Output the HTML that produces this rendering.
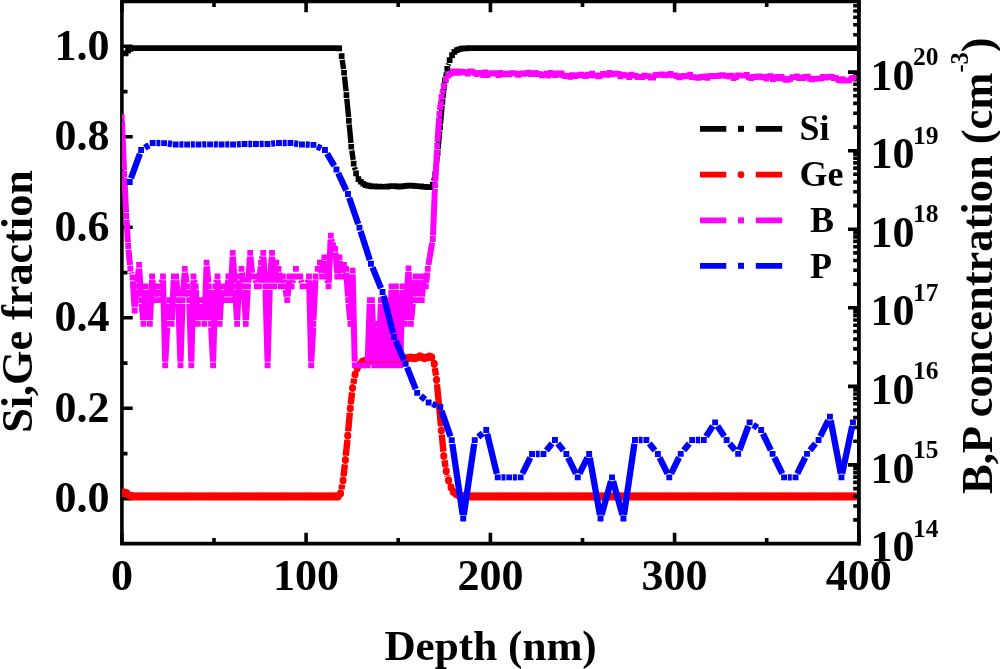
<!DOCTYPE html>
<html lang="en"><head><meta charset="utf-8"><title>Depth profile</title><style>html,body{margin:0;padding:0;background:#fff}svg{display:block}</style></head><body>
<svg width="1000" height="669" viewBox="0 0 1000 669" font-family="'Liberation Serif', serif" font-weight="bold" fill="#000">
<rect width="1000" height="669" fill="#fff"/>
<g stroke="#000" stroke-width="3.6" fill="none" stroke-linecap="butt">
<path d="M120.1 1.4H860.6M120.1 543.6H860.6M121.9 0V545.4M858.8 0V545.4"/>
<path d="M121.9 543.6v-10.8M121.9 1.4v10.8M306.1 543.6v-10.8M306.1 1.4v10.8M490.4 543.6v-10.8M490.4 1.4v10.8M674.6 543.6v-10.8M674.6 1.4v10.8M858.8 543.6v-10.8M858.8 1.4v10.8M214 543.6v-5.6M214 1.4v5.6M398.2 543.6v-5.6M398.2 1.4v5.6M582.5 543.6v-5.6M582.5 1.4v5.6M766.7 543.6v-5.6M766.7 1.4v5.6M121.9 498.8h10.8M121.9 408.3h10.8M121.9 317.8h10.8M121.9 227.3h10.8M121.9 136.8h10.8M121.9 46.3h10.8M121.9 453.6h5.6M121.9 363.1h5.6M121.9 272.6h5.6M121.9 182.1h5.6M121.9 91.6h5.6"/>
</g>
<clipPath id="c"><rect x="121.9" y="1.4" width="736.9" height="542.2"/></clipPath>
<g clip-path="url(#c)">
<path d="M342.2 59.9L343.6 69.1M344.5 76.5L346.1 91.3M346.8 98.7L348.6 117.2M349.2 124.6L351 143M351.8 150.5L353.2 159.9M354.6 167.4L355.2 169.7M433.7 181L434.5 177.7M435.7 170.3L437.3 156.5M438.1 149.1L439.7 131.2M440.5 123.7L442.1 105.6M442.9 98.2L444.5 84.1M445.7 76.7L446.5 72.5M448.3 65.1L448.7 63.9" stroke="#000" stroke-width="5.4" fill="none"/>
<path d="M120.4 50.5h5.7v5.7h-5.7zM122.8 50.5h5.7v5.7h-5.7zM125.2 47.8h5.7v5.7h-5.7zM127.7 46.1h5.7v5.7h-5.7zM130.1 45.4h5.7v5.7h-5.7zM132.4 45.2h5.7v5.7h-5.7zM134.8 45.2h5.7v5.7h-5.7zM137.2 45.2h5.7v5.7h-5.7zM139.7 45.2h5.7v5.7h-5.7zM142.1 45.2h5.7v5.7h-5.7zM144.4 45.2h5.7v5.7h-5.7zM146.8 45.2h5.7v5.7h-5.7zM149.2 45.2h5.7v5.7h-5.7zM151.7 45.2h5.7v5.7h-5.7zM154.1 45.2h5.7v5.7h-5.7zM156.4 45.2h5.7v5.7h-5.7zM158.8 45.2h5.7v5.7h-5.7zM161.2 45.2h5.7v5.7h-5.7zM163.7 45.2h5.7v5.7h-5.7zM166.1 45.2h5.7v5.7h-5.7zM168.4 45.2h5.7v5.7h-5.7zM170.8 45.2h5.7v5.7h-5.7zM173.2 45.2h5.7v5.7h-5.7zM175.7 45.2h5.7v5.7h-5.7zM178.1 45.2h5.7v5.7h-5.7zM180.4 45.2h5.7v5.7h-5.7zM182.8 45.2h5.7v5.7h-5.7zM185.2 45.2h5.7v5.7h-5.7zM187.7 45.2h5.7v5.7h-5.7zM190.1 45.2h5.7v5.7h-5.7zM192.4 45.2h5.7v5.7h-5.7zM194.8 45.2h5.7v5.7h-5.7zM197.2 45.2h5.7v5.7h-5.7zM199.7 45.2h5.7v5.7h-5.7zM202.1 45.2h5.7v5.7h-5.7zM204.4 45.2h5.7v5.7h-5.7zM206.8 45.2h5.7v5.7h-5.7zM209.2 45.2h5.7v5.7h-5.7zM211.7 45.2h5.7v5.7h-5.7zM214 45.2h5.7v5.7h-5.7zM216.5 45.2h5.7v5.7h-5.7zM218.8 45.2h5.7v5.7h-5.7zM221.2 45.2h5.7v5.7h-5.7zM223.7 45.2h5.7v5.7h-5.7zM226 45.2h5.7v5.7h-5.7zM228.5 45.2h5.7v5.7h-5.7zM230.8 45.2h5.7v5.7h-5.7zM233.2 45.2h5.7v5.7h-5.7zM235.7 45.2h5.7v5.7h-5.7zM238 45.2h5.7v5.7h-5.7zM240.5 45.2h5.7v5.7h-5.7zM242.8 45.2h5.7v5.7h-5.7zM245.2 45.2h5.7v5.7h-5.7zM247.7 45.2h5.7v5.7h-5.7zM250 45.2h5.7v5.7h-5.7zM252.5 45.2h5.7v5.7h-5.7zM254.8 45.2h5.7v5.7h-5.7zM257.2 45.2h5.7v5.7h-5.7zM259.6 45.2h5.7v5.7h-5.7zM262 45.2h5.7v5.7h-5.7zM264.4 45.2h5.7v5.7h-5.7zM266.8 45.2h5.7v5.7h-5.7zM269.2 45.2h5.7v5.7h-5.7zM271.6 45.2h5.7v5.7h-5.7zM274 45.2h5.7v5.7h-5.7zM276.4 45.2h5.7v5.7h-5.7zM278.8 45.2h5.7v5.7h-5.7zM281.2 45.2h5.7v5.7h-5.7zM283.6 45.2h5.7v5.7h-5.7zM286 45.2h5.7v5.7h-5.7zM288.4 45.2h5.7v5.7h-5.7zM290.8 45.2h5.7v5.7h-5.7zM293.2 45.2h5.7v5.7h-5.7zM295.6 45.2h5.7v5.7h-5.7zM298 45.2h5.7v5.7h-5.7zM300.4 45.2h5.7v5.7h-5.7zM302.8 45.2h5.7v5.7h-5.7zM305.2 45.2h5.7v5.7h-5.7zM307.6 45.2h5.7v5.7h-5.7zM310 45.2h5.7v5.7h-5.7zM312.4 45.2h5.7v5.7h-5.7zM314.8 45.2h5.7v5.7h-5.7zM317.2 45.2h5.7v5.7h-5.7zM319.6 45.2h5.7v5.7h-5.7zM322 45.2h5.7v5.7h-5.7zM324.4 45.2h5.7v5.7h-5.7zM326.8 45.2h5.7v5.7h-5.7zM329.2 45.2h5.7v5.7h-5.7zM331.6 45.2h5.7v5.7h-5.7zM334 45.2h5.7v5.7h-5.7zM336.4 45.6h5.7v5.7h-5.7zM338.8 53.3h5.7v5.7h-5.7zM341.2 69.9h5.7v5.7h-5.7zM343.6 92.2h5.7v5.7h-5.7zM346 118h5.7v5.7h-5.7zM348.4 143.9h5.7v5.7h-5.7zM350.8 160.8h5.7v5.7h-5.7zM353.2 170.6h5.7v5.7h-5.7zM355.6 176.2h5.7v5.7h-5.7zM358 178.9h5.7v5.7h-5.7zM360.4 180.9h5.7v5.7h-5.7zM362.8 182.3h5.7v5.7h-5.7zM365.2 182.8h5.7v5.7h-5.7zM367.6 183.2h5.7v5.7h-5.7zM370 183.5h5.7v5.7h-5.7zM372.4 183.6h5.7v5.7h-5.7zM374.8 183.7h5.7v5.7h-5.7zM377.2 183.8h5.7v5.7h-5.7zM379.6 183.9h5.7v5.7h-5.7zM382 183.9h5.7v5.7h-5.7zM384.4 183.7h5.7v5.7h-5.7zM386.8 183.4h5.7v5.7h-5.7zM389.2 183.2h5.7v5.7h-5.7zM391.6 183.3h5.7v5.7h-5.7zM394 183.5h5.7v5.7h-5.7zM396.4 183.7h5.7v5.7h-5.7zM398.8 183.6h5.7v5.7h-5.7zM401.2 183.3h5.7v5.7h-5.7zM403.6 183h5.7v5.7h-5.7zM406 182.8h5.7v5.7h-5.7zM408.4 182.8h5.7v5.7h-5.7zM410.8 183h5.7v5.7h-5.7zM413.2 183.2h5.7v5.7h-5.7zM415.6 183.4h5.7v5.7h-5.7zM418 183.6h5.7v5.7h-5.7zM420.4 183.9h5.7v5.7h-5.7zM422.8 184.1h5.7v5.7h-5.7zM425.2 184.3h5.7v5.7h-5.7zM427.6 184.2h5.7v5.7h-5.7zM430 181.8h5.7v5.7h-5.7zM432.4 171.2h5.7v5.7h-5.7zM434.8 150h5.7v5.7h-5.7zM437.2 124.6h5.7v5.7h-5.7zM439.6 99.1h5.7v5.7h-5.7zM442 77.5h5.7v5.7h-5.7zM444.4 66h5.7v5.7h-5.7zM446.8 57.3h5.7v5.7h-5.7zM449.2 52.3h5.7v5.7h-5.7zM451.6 49.1h5.7v5.7h-5.7zM454 47.2h5.7v5.7h-5.7zM456.4 46.4h5.7v5.7h-5.7zM458.8 45.8h5.7v5.7h-5.7zM461.2 45.6h5.7v5.7h-5.7zM463.6 45.5h5.7v5.7h-5.7zM466 45.3h5.7v5.7h-5.7zM468.4 45.2h5.7v5.7h-5.7zM470.8 45.2h5.7v5.7h-5.7zM473.2 45.2h5.7v5.7h-5.7zM475.6 45.2h5.7v5.7h-5.7zM478 45.2h5.7v5.7h-5.7zM480.4 45.2h5.7v5.7h-5.7zM482.8 45.2h5.7v5.7h-5.7zM485.2 45.2h5.7v5.7h-5.7zM487.6 45.2h5.7v5.7h-5.7zM490 45.2h5.7v5.7h-5.7zM492.4 45.2h5.7v5.7h-5.7zM494.8 45.2h5.7v5.7h-5.7zM497.2 45.2h5.7v5.7h-5.7zM499.6 45.2h5.7v5.7h-5.7zM502 45.2h5.7v5.7h-5.7zM504.4 45.2h5.7v5.7h-5.7zM506.8 45.2h5.7v5.7h-5.7zM509.2 45.2h5.7v5.7h-5.7zM511.6 45.2h5.7v5.7h-5.7zM514 45.2h5.7v5.7h-5.7zM516.4 45.2h5.7v5.7h-5.7zM518.9 45.2h5.7v5.7h-5.7zM521.2 45.2h5.7v5.7h-5.7zM523.6 45.2h5.7v5.7h-5.7zM526 45.2h5.7v5.7h-5.7zM528.4 45.2h5.7v5.7h-5.7zM530.9 45.2h5.7v5.7h-5.7zM533.2 45.2h5.7v5.7h-5.7zM535.6 45.2h5.7v5.7h-5.7zM538 45.2h5.7v5.7h-5.7zM540.4 45.2h5.7v5.7h-5.7zM542.9 45.2h5.7v5.7h-5.7zM545.2 45.2h5.7v5.7h-5.7zM547.6 45.2h5.7v5.7h-5.7zM550 45.2h5.7v5.7h-5.7zM552.4 45.2h5.7v5.7h-5.7zM554.9 45.2h5.7v5.7h-5.7zM557.2 45.2h5.7v5.7h-5.7zM559.6 45.2h5.7v5.7h-5.7zM562 45.2h5.7v5.7h-5.7zM564.4 45.2h5.7v5.7h-5.7zM566.9 45.2h5.7v5.7h-5.7zM569.2 45.2h5.7v5.7h-5.7zM571.6 45.2h5.7v5.7h-5.7zM574 45.2h5.7v5.7h-5.7zM576.4 45.2h5.7v5.7h-5.7zM578.9 45.2h5.7v5.7h-5.7zM581.2 45.2h5.7v5.7h-5.7zM583.6 45.2h5.7v5.7h-5.7zM586 45.2h5.7v5.7h-5.7zM588.4 45.2h5.7v5.7h-5.7zM590.9 45.2h5.7v5.7h-5.7zM593.2 45.2h5.7v5.7h-5.7zM595.6 45.2h5.7v5.7h-5.7zM598 45.2h5.7v5.7h-5.7zM600.4 45.2h5.7v5.7h-5.7zM602.9 45.2h5.7v5.7h-5.7zM605.2 45.2h5.7v5.7h-5.7zM607.6 45.2h5.7v5.7h-5.7zM610 45.2h5.7v5.7h-5.7zM612.4 45.2h5.7v5.7h-5.7zM614.9 45.2h5.7v5.7h-5.7zM617.2 45.2h5.7v5.7h-5.7zM619.6 45.2h5.7v5.7h-5.7zM622 45.2h5.7v5.7h-5.7zM624.4 45.2h5.7v5.7h-5.7zM626.9 45.2h5.7v5.7h-5.7zM629.2 45.2h5.7v5.7h-5.7zM631.6 45.2h5.7v5.7h-5.7zM634 45.2h5.7v5.7h-5.7zM636.4 45.2h5.7v5.7h-5.7zM638.9 45.2h5.7v5.7h-5.7zM641.2 45.2h5.7v5.7h-5.7zM643.6 45.2h5.7v5.7h-5.7zM646 45.2h5.7v5.7h-5.7zM648.4 45.2h5.7v5.7h-5.7zM650.9 45.2h5.7v5.7h-5.7zM653.2 45.2h5.7v5.7h-5.7zM655.6 45.2h5.7v5.7h-5.7zM658 45.2h5.7v5.7h-5.7zM660.4 45.2h5.7v5.7h-5.7zM662.9 45.2h5.7v5.7h-5.7zM665.2 45.2h5.7v5.7h-5.7zM667.6 45.2h5.7v5.7h-5.7zM670 45.2h5.7v5.7h-5.7zM672.4 45.2h5.7v5.7h-5.7zM674.9 45.2h5.7v5.7h-5.7zM677.2 45.2h5.7v5.7h-5.7zM679.6 45.2h5.7v5.7h-5.7zM682 45.2h5.7v5.7h-5.7zM684.4 45.2h5.7v5.7h-5.7zM686.9 45.2h5.7v5.7h-5.7zM689.2 45.2h5.7v5.7h-5.7zM691.6 45.2h5.7v5.7h-5.7zM694 45.2h5.7v5.7h-5.7zM696.4 45.2h5.7v5.7h-5.7zM698.9 45.2h5.7v5.7h-5.7zM701.2 45.2h5.7v5.7h-5.7zM703.6 45.2h5.7v5.7h-5.7zM706 45.2h5.7v5.7h-5.7zM708.4 45.2h5.7v5.7h-5.7zM710.9 45.2h5.7v5.7h-5.7zM713.2 45.2h5.7v5.7h-5.7zM715.6 45.2h5.7v5.7h-5.7zM718 45.2h5.7v5.7h-5.7zM720.4 45.2h5.7v5.7h-5.7zM722.9 45.2h5.7v5.7h-5.7zM725.2 45.2h5.7v5.7h-5.7zM727.6 45.2h5.7v5.7h-5.7zM730 45.2h5.7v5.7h-5.7zM732.4 45.2h5.7v5.7h-5.7zM734.9 45.2h5.7v5.7h-5.7zM737.2 45.2h5.7v5.7h-5.7zM739.6 45.2h5.7v5.7h-5.7zM742 45.2h5.7v5.7h-5.7zM744.4 45.2h5.7v5.7h-5.7zM746.9 45.2h5.7v5.7h-5.7zM749.2 45.2h5.7v5.7h-5.7zM751.6 45.2h5.7v5.7h-5.7zM754 45.2h5.7v5.7h-5.7zM756.4 45.2h5.7v5.7h-5.7zM758.9 45.2h5.7v5.7h-5.7zM761.2 45.2h5.7v5.7h-5.7zM763.6 45.2h5.7v5.7h-5.7zM766 45.2h5.7v5.7h-5.7zM768.4 45.2h5.7v5.7h-5.7zM770.9 45.2h5.7v5.7h-5.7zM773.2 45.2h5.7v5.7h-5.7zM775.6 45.2h5.7v5.7h-5.7zM778 45.2h5.7v5.7h-5.7zM780.4 45.2h5.7v5.7h-5.7zM782.9 45.2h5.7v5.7h-5.7zM785.2 45.2h5.7v5.7h-5.7zM787.6 45.2h5.7v5.7h-5.7zM790 45.2h5.7v5.7h-5.7zM792.4 45.2h5.7v5.7h-5.7zM794.9 45.2h5.7v5.7h-5.7zM797.2 45.2h5.7v5.7h-5.7zM799.6 45.2h5.7v5.7h-5.7zM802 45.2h5.7v5.7h-5.7zM804.4 45.2h5.7v5.7h-5.7zM806.9 45.2h5.7v5.7h-5.7zM809.2 45.2h5.7v5.7h-5.7zM811.6 45.2h5.7v5.7h-5.7zM814 45.2h5.7v5.7h-5.7zM816.4 45.2h5.7v5.7h-5.7zM818.9 45.2h5.7v5.7h-5.7zM821.2 45.2h5.7v5.7h-5.7zM823.6 45.2h5.7v5.7h-5.7zM826 45.2h5.7v5.7h-5.7zM828.4 45.2h5.7v5.7h-5.7zM830.9 45.2h5.7v5.7h-5.7zM833.2 45.2h5.7v5.7h-5.7zM835.6 45.2h5.7v5.7h-5.7zM838 45.2h5.7v5.7h-5.7zM840.4 45.2h5.7v5.7h-5.7zM842.9 45.2h5.7v5.7h-5.7zM845.2 45.2h5.7v5.7h-5.7zM847.6 45.2h5.7v5.7h-5.7zM850 45.2h5.7v5.7h-5.7zM852.4 45.2h5.7v5.7h-5.7zM854.9 45.2h5.7v5.7h-5.7z" fill="#000"/>
<path d="M341.4 489.2L342.2 484.7M343.5 476.1L344.9 464.3M345.8 455.7L347.4 439.9M348.2 431.3L349.8 412.7M350.7 404.1L352.1 392.3M353.4 383.7L354.2 378.8M434.8 368.1L436 375.6M437 384.2L441 426.2M441.8 434.8L443.4 451.6M444.5 460.3L445.5 466.9M447.3 475.4L447.5 476.2" stroke="#f00" stroke-width="6.4" fill="none"/>
<path d="M118.7 492.9a3.5 3.5 0 1 0 6.9 0a3.5 3.5 0 1 0 -6.9 0zM121.1 492.6a3.5 3.5 0 1 0 6.9 0a3.5 3.5 0 1 0 -6.9 0zM123.5 493.4a3.5 3.5 0 1 0 6.9 0a3.5 3.5 0 1 0 -6.9 0zM125.9 495.5a3.5 3.5 0 1 0 6.9 0a3.5 3.5 0 1 0 -6.9 0zM128.4 496.1a3.5 3.5 0 1 0 6.9 0a3.5 3.5 0 1 0 -6.9 0zM130.8 496.4a3.5 3.5 0 1 0 6.9 0a3.5 3.5 0 1 0 -6.9 0zM133.1 496.4a3.5 3.5 0 1 0 6.9 0a3.5 3.5 0 1 0 -6.9 0zM135.6 496.4a3.5 3.5 0 1 0 6.9 0a3.5 3.5 0 1 0 -6.9 0zM137.9 496.4a3.5 3.5 0 1 0 6.9 0a3.5 3.5 0 1 0 -6.9 0zM140.4 496.4a3.5 3.5 0 1 0 6.9 0a3.5 3.5 0 1 0 -6.9 0zM142.8 496.4a3.5 3.5 0 1 0 6.9 0a3.5 3.5 0 1 0 -6.9 0zM145.1 496.4a3.5 3.5 0 1 0 6.9 0a3.5 3.5 0 1 0 -6.9 0zM147.6 496.4a3.5 3.5 0 1 0 6.9 0a3.5 3.5 0 1 0 -6.9 0zM149.9 496.4a3.5 3.5 0 1 0 6.9 0a3.5 3.5 0 1 0 -6.9 0zM152.4 496.4a3.5 3.5 0 1 0 6.9 0a3.5 3.5 0 1 0 -6.9 0zM154.8 496.4a3.5 3.5 0 1 0 6.9 0a3.5 3.5 0 1 0 -6.9 0zM157.1 496.4a3.5 3.5 0 1 0 6.9 0a3.5 3.5 0 1 0 -6.9 0zM159.6 496.4a3.5 3.5 0 1 0 6.9 0a3.5 3.5 0 1 0 -6.9 0zM161.9 496.4a3.5 3.5 0 1 0 6.9 0a3.5 3.5 0 1 0 -6.9 0zM164.4 496.4a3.5 3.5 0 1 0 6.9 0a3.5 3.5 0 1 0 -6.9 0zM166.8 496.4a3.5 3.5 0 1 0 6.9 0a3.5 3.5 0 1 0 -6.9 0zM169.1 496.4a3.5 3.5 0 1 0 6.9 0a3.5 3.5 0 1 0 -6.9 0zM171.6 496.4a3.5 3.5 0 1 0 6.9 0a3.5 3.5 0 1 0 -6.9 0zM173.9 496.4a3.5 3.5 0 1 0 6.9 0a3.5 3.5 0 1 0 -6.9 0zM176.4 496.4a3.5 3.5 0 1 0 6.9 0a3.5 3.5 0 1 0 -6.9 0zM178.8 496.4a3.5 3.5 0 1 0 6.9 0a3.5 3.5 0 1 0 -6.9 0zM181.1 496.4a3.5 3.5 0 1 0 6.9 0a3.5 3.5 0 1 0 -6.9 0zM183.6 496.4a3.5 3.5 0 1 0 6.9 0a3.5 3.5 0 1 0 -6.9 0zM185.9 496.4a3.5 3.5 0 1 0 6.9 0a3.5 3.5 0 1 0 -6.9 0zM188.3 496.4a3.5 3.5 0 1 0 6.9 0a3.5 3.5 0 1 0 -6.9 0zM190.8 496.4a3.5 3.5 0 1 0 6.9 0a3.5 3.5 0 1 0 -6.9 0zM193.2 496.4a3.5 3.5 0 1 0 6.9 0a3.5 3.5 0 1 0 -6.9 0zM195.6 496.4a3.5 3.5 0 1 0 6.9 0a3.5 3.5 0 1 0 -6.9 0zM197.9 496.4a3.5 3.5 0 1 0 6.9 0a3.5 3.5 0 1 0 -6.9 0zM200.3 496.4a3.5 3.5 0 1 0 6.9 0a3.5 3.5 0 1 0 -6.9 0zM202.8 496.4a3.5 3.5 0 1 0 6.9 0a3.5 3.5 0 1 0 -6.9 0zM205.2 496.4a3.5 3.5 0 1 0 6.9 0a3.5 3.5 0 1 0 -6.9 0zM207.6 496.4a3.5 3.5 0 1 0 6.9 0a3.5 3.5 0 1 0 -6.9 0zM209.9 496.4a3.5 3.5 0 1 0 6.9 0a3.5 3.5 0 1 0 -6.9 0zM212.3 496.4a3.5 3.5 0 1 0 6.9 0a3.5 3.5 0 1 0 -6.9 0zM214.8 496.4a3.5 3.5 0 1 0 6.9 0a3.5 3.5 0 1 0 -6.9 0zM217.2 496.4a3.5 3.5 0 1 0 6.9 0a3.5 3.5 0 1 0 -6.9 0zM219.5 496.4a3.5 3.5 0 1 0 6.9 0a3.5 3.5 0 1 0 -6.9 0zM221.9 496.4a3.5 3.5 0 1 0 6.9 0a3.5 3.5 0 1 0 -6.9 0zM224.3 496.4a3.5 3.5 0 1 0 6.9 0a3.5 3.5 0 1 0 -6.9 0zM226.8 496.4a3.5 3.5 0 1 0 6.9 0a3.5 3.5 0 1 0 -6.9 0zM229.2 496.4a3.5 3.5 0 1 0 6.9 0a3.5 3.5 0 1 0 -6.9 0zM231.5 496.4a3.5 3.5 0 1 0 6.9 0a3.5 3.5 0 1 0 -6.9 0zM233.9 496.4a3.5 3.5 0 1 0 6.9 0a3.5 3.5 0 1 0 -6.9 0zM236.3 496.4a3.5 3.5 0 1 0 6.9 0a3.5 3.5 0 1 0 -6.9 0zM238.8 496.4a3.5 3.5 0 1 0 6.9 0a3.5 3.5 0 1 0 -6.9 0zM241.2 496.4a3.5 3.5 0 1 0 6.9 0a3.5 3.5 0 1 0 -6.9 0zM243.5 496.4a3.5 3.5 0 1 0 6.9 0a3.5 3.5 0 1 0 -6.9 0zM245.9 496.4a3.5 3.5 0 1 0 6.9 0a3.5 3.5 0 1 0 -6.9 0zM248.3 496.4a3.5 3.5 0 1 0 6.9 0a3.5 3.5 0 1 0 -6.9 0zM250.8 496.4a3.5 3.5 0 1 0 6.9 0a3.5 3.5 0 1 0 -6.9 0zM253.2 496.4a3.5 3.5 0 1 0 6.9 0a3.5 3.5 0 1 0 -6.9 0zM255.6 496.4a3.5 3.5 0 1 0 6.9 0a3.5 3.5 0 1 0 -6.9 0zM257.9 496.4a3.5 3.5 0 1 0 6.9 0a3.5 3.5 0 1 0 -6.9 0zM260.3 496.4a3.5 3.5 0 1 0 6.9 0a3.5 3.5 0 1 0 -6.9 0zM262.8 496.4a3.5 3.5 0 1 0 6.9 0a3.5 3.5 0 1 0 -6.9 0zM265.2 496.4a3.5 3.5 0 1 0 6.9 0a3.5 3.5 0 1 0 -6.9 0zM267.6 496.4a3.5 3.5 0 1 0 6.9 0a3.5 3.5 0 1 0 -6.9 0zM269.9 496.4a3.5 3.5 0 1 0 6.9 0a3.5 3.5 0 1 0 -6.9 0zM272.3 496.4a3.5 3.5 0 1 0 6.9 0a3.5 3.5 0 1 0 -6.9 0zM274.8 496.4a3.5 3.5 0 1 0 6.9 0a3.5 3.5 0 1 0 -6.9 0zM277.2 496.4a3.5 3.5 0 1 0 6.9 0a3.5 3.5 0 1 0 -6.9 0zM279.6 496.4a3.5 3.5 0 1 0 6.9 0a3.5 3.5 0 1 0 -6.9 0zM281.9 496.4a3.5 3.5 0 1 0 6.9 0a3.5 3.5 0 1 0 -6.9 0zM284.3 496.4a3.5 3.5 0 1 0 6.9 0a3.5 3.5 0 1 0 -6.9 0zM286.8 496.4a3.5 3.5 0 1 0 6.9 0a3.5 3.5 0 1 0 -6.9 0zM289.2 496.4a3.5 3.5 0 1 0 6.9 0a3.5 3.5 0 1 0 -6.9 0zM291.6 496.4a3.5 3.5 0 1 0 6.9 0a3.5 3.5 0 1 0 -6.9 0zM293.9 496.4a3.5 3.5 0 1 0 6.9 0a3.5 3.5 0 1 0 -6.9 0zM296.3 496.4a3.5 3.5 0 1 0 6.9 0a3.5 3.5 0 1 0 -6.9 0zM298.8 496.4a3.5 3.5 0 1 0 6.9 0a3.5 3.5 0 1 0 -6.9 0zM301.2 496.4a3.5 3.5 0 1 0 6.9 0a3.5 3.5 0 1 0 -6.9 0zM303.6 496.4a3.5 3.5 0 1 0 6.9 0a3.5 3.5 0 1 0 -6.9 0zM305.9 496.4a3.5 3.5 0 1 0 6.9 0a3.5 3.5 0 1 0 -6.9 0zM308.3 496.4a3.5 3.5 0 1 0 6.9 0a3.5 3.5 0 1 0 -6.9 0zM310.8 496.4a3.5 3.5 0 1 0 6.9 0a3.5 3.5 0 1 0 -6.9 0zM313.1 496.4a3.5 3.5 0 1 0 6.9 0a3.5 3.5 0 1 0 -6.9 0zM315.6 496.4a3.5 3.5 0 1 0 6.9 0a3.5 3.5 0 1 0 -6.9 0zM317.9 496.4a3.5 3.5 0 1 0 6.9 0a3.5 3.5 0 1 0 -6.9 0zM320.3 496.4a3.5 3.5 0 1 0 6.9 0a3.5 3.5 0 1 0 -6.9 0zM322.8 496.4a3.5 3.5 0 1 0 6.9 0a3.5 3.5 0 1 0 -6.9 0zM325.1 496.4a3.5 3.5 0 1 0 6.9 0a3.5 3.5 0 1 0 -6.9 0zM327.6 496.4a3.5 3.5 0 1 0 6.9 0a3.5 3.5 0 1 0 -6.9 0zM329.9 496.4a3.5 3.5 0 1 0 6.9 0a3.5 3.5 0 1 0 -6.9 0zM332.3 496.4a3.5 3.5 0 1 0 6.9 0a3.5 3.5 0 1 0 -6.9 0zM334.8 496.4a3.5 3.5 0 1 0 6.9 0a3.5 3.5 0 1 0 -6.9 0zM337.1 493.4a3.5 3.5 0 1 0 6.9 0a3.5 3.5 0 1 0 -6.9 0zM339.6 480.4a3.5 3.5 0 1 0 6.9 0a3.5 3.5 0 1 0 -6.9 0zM341.9 460a3.5 3.5 0 1 0 6.9 0a3.5 3.5 0 1 0 -6.9 0zM344.3 435.6a3.5 3.5 0 1 0 6.9 0a3.5 3.5 0 1 0 -6.9 0zM346.8 408.4a3.5 3.5 0 1 0 6.9 0a3.5 3.5 0 1 0 -6.9 0zM349.1 388a3.5 3.5 0 1 0 6.9 0a3.5 3.5 0 1 0 -6.9 0zM351.6 374.5a3.5 3.5 0 1 0 6.9 0a3.5 3.5 0 1 0 -6.9 0zM353.9 368.1a3.5 3.5 0 1 0 6.9 0a3.5 3.5 0 1 0 -6.9 0zM356.3 364.5a3.5 3.5 0 1 0 6.9 0a3.5 3.5 0 1 0 -6.9 0zM358.8 361.9a3.5 3.5 0 1 0 6.9 0a3.5 3.5 0 1 0 -6.9 0zM361.1 361.1a3.5 3.5 0 1 0 6.9 0a3.5 3.5 0 1 0 -6.9 0zM363.6 360.6a3.5 3.5 0 1 0 6.9 0a3.5 3.5 0 1 0 -6.9 0zM365.9 360.6a3.5 3.5 0 1 0 6.9 0a3.5 3.5 0 1 0 -6.9 0zM368.3 360.5a3.5 3.5 0 1 0 6.9 0a3.5 3.5 0 1 0 -6.9 0zM370.8 360.5a3.5 3.5 0 1 0 6.9 0a3.5 3.5 0 1 0 -6.9 0zM373.1 360.4a3.5 3.5 0 1 0 6.9 0a3.5 3.5 0 1 0 -6.9 0zM375.6 360.4a3.5 3.5 0 1 0 6.9 0a3.5 3.5 0 1 0 -6.9 0zM377.9 360.3a3.5 3.5 0 1 0 6.9 0a3.5 3.5 0 1 0 -6.9 0zM380.3 360.2a3.5 3.5 0 1 0 6.9 0a3.5 3.5 0 1 0 -6.9 0zM382.8 360.2a3.5 3.5 0 1 0 6.9 0a3.5 3.5 0 1 0 -6.9 0zM385.1 360.1a3.5 3.5 0 1 0 6.9 0a3.5 3.5 0 1 0 -6.9 0zM387.6 360a3.5 3.5 0 1 0 6.9 0a3.5 3.5 0 1 0 -6.9 0zM389.9 359.9a3.5 3.5 0 1 0 6.9 0a3.5 3.5 0 1 0 -6.9 0zM392.3 359.7a3.5 3.5 0 1 0 6.9 0a3.5 3.5 0 1 0 -6.9 0zM394.8 359.4a3.5 3.5 0 1 0 6.9 0a3.5 3.5 0 1 0 -6.9 0zM397.1 359.1a3.5 3.5 0 1 0 6.9 0a3.5 3.5 0 1 0 -6.9 0zM399.6 358.7a3.5 3.5 0 1 0 6.9 0a3.5 3.5 0 1 0 -6.9 0zM401.9 358.4a3.5 3.5 0 1 0 6.9 0a3.5 3.5 0 1 0 -6.9 0zM404.3 358a3.5 3.5 0 1 0 6.9 0a3.5 3.5 0 1 0 -6.9 0zM406.8 357.6a3.5 3.5 0 1 0 6.9 0a3.5 3.5 0 1 0 -6.9 0zM409.1 357.9a3.5 3.5 0 1 0 6.9 0a3.5 3.5 0 1 0 -6.9 0zM411.6 358.1a3.5 3.5 0 1 0 6.9 0a3.5 3.5 0 1 0 -6.9 0zM413.9 357.5a3.5 3.5 0 1 0 6.9 0a3.5 3.5 0 1 0 -6.9 0zM416.3 356.4a3.5 3.5 0 1 0 6.9 0a3.5 3.5 0 1 0 -6.9 0zM418.8 357.4a3.5 3.5 0 1 0 6.9 0a3.5 3.5 0 1 0 -6.9 0zM421.1 358.1a3.5 3.5 0 1 0 6.9 0a3.5 3.5 0 1 0 -6.9 0zM423.6 357.3a3.5 3.5 0 1 0 6.9 0a3.5 3.5 0 1 0 -6.9 0zM425.9 356.7a3.5 3.5 0 1 0 6.9 0a3.5 3.5 0 1 0 -6.9 0zM428.3 357.4a3.5 3.5 0 1 0 6.9 0a3.5 3.5 0 1 0 -6.9 0zM430.8 363.8a3.5 3.5 0 1 0 6.9 0a3.5 3.5 0 1 0 -6.9 0zM433.1 379.9a3.5 3.5 0 1 0 6.9 0a3.5 3.5 0 1 0 -6.9 0zM437.9 430.5a3.5 3.5 0 1 0 6.9 0a3.5 3.5 0 1 0 -6.9 0zM440.3 456a3.5 3.5 0 1 0 6.9 0a3.5 3.5 0 1 0 -6.9 0zM442.8 471.2a3.5 3.5 0 1 0 6.9 0a3.5 3.5 0 1 0 -6.9 0zM445.1 480.4a3.5 3.5 0 1 0 6.9 0a3.5 3.5 0 1 0 -6.9 0zM447.6 487.3a3.5 3.5 0 1 0 6.9 0a3.5 3.5 0 1 0 -6.9 0zM449.9 491.9a3.5 3.5 0 1 0 6.9 0a3.5 3.5 0 1 0 -6.9 0zM452.3 493.9a3.5 3.5 0 1 0 6.9 0a3.5 3.5 0 1 0 -6.9 0zM454.8 495.2a3.5 3.5 0 1 0 6.9 0a3.5 3.5 0 1 0 -6.9 0zM457.1 495.8a3.5 3.5 0 1 0 6.9 0a3.5 3.5 0 1 0 -6.9 0zM459.6 496.2a3.5 3.5 0 1 0 6.9 0a3.5 3.5 0 1 0 -6.9 0zM461.9 496.3a3.5 3.5 0 1 0 6.9 0a3.5 3.5 0 1 0 -6.9 0zM464.3 496.3a3.5 3.5 0 1 0 6.9 0a3.5 3.5 0 1 0 -6.9 0zM466.8 496.4a3.5 3.5 0 1 0 6.9 0a3.5 3.5 0 1 0 -6.9 0zM469.1 496.4a3.5 3.5 0 1 0 6.9 0a3.5 3.5 0 1 0 -6.9 0zM471.6 496.4a3.5 3.5 0 1 0 6.9 0a3.5 3.5 0 1 0 -6.9 0zM473.9 496.4a3.5 3.5 0 1 0 6.9 0a3.5 3.5 0 1 0 -6.9 0zM476.3 496.4a3.5 3.5 0 1 0 6.9 0a3.5 3.5 0 1 0 -6.9 0zM478.8 496.4a3.5 3.5 0 1 0 6.9 0a3.5 3.5 0 1 0 -6.9 0zM481.1 496.4a3.5 3.5 0 1 0 6.9 0a3.5 3.5 0 1 0 -6.9 0zM483.6 496.4a3.5 3.5 0 1 0 6.9 0a3.5 3.5 0 1 0 -6.9 0zM485.9 496.4a3.5 3.5 0 1 0 6.9 0a3.5 3.5 0 1 0 -6.9 0zM488.3 496.4a3.5 3.5 0 1 0 6.9 0a3.5 3.5 0 1 0 -6.9 0zM490.8 496.4a3.5 3.5 0 1 0 6.9 0a3.5 3.5 0 1 0 -6.9 0zM493.1 496.4a3.5 3.5 0 1 0 6.9 0a3.5 3.5 0 1 0 -6.9 0zM495.6 496.4a3.5 3.5 0 1 0 6.9 0a3.5 3.5 0 1 0 -6.9 0zM497.9 496.4a3.5 3.5 0 1 0 6.9 0a3.5 3.5 0 1 0 -6.9 0zM500.3 496.4a3.5 3.5 0 1 0 6.9 0a3.5 3.5 0 1 0 -6.9 0zM502.8 496.4a3.5 3.5 0 1 0 6.9 0a3.5 3.5 0 1 0 -6.9 0zM505.1 496.4a3.5 3.5 0 1 0 6.9 0a3.5 3.5 0 1 0 -6.9 0zM507.6 496.4a3.5 3.5 0 1 0 6.9 0a3.5 3.5 0 1 0 -6.9 0zM509.9 496.4a3.5 3.5 0 1 0 6.9 0a3.5 3.5 0 1 0 -6.9 0zM512.3 496.4a3.5 3.5 0 1 0 6.9 0a3.5 3.5 0 1 0 -6.9 0zM514.7 496.4a3.5 3.5 0 1 0 6.9 0a3.5 3.5 0 1 0 -6.9 0zM517.1 496.4a3.5 3.5 0 1 0 6.9 0a3.5 3.5 0 1 0 -6.9 0zM519.5 496.4a3.5 3.5 0 1 0 6.9 0a3.5 3.5 0 1 0 -6.9 0zM521.9 496.4a3.5 3.5 0 1 0 6.9 0a3.5 3.5 0 1 0 -6.9 0zM524.3 496.4a3.5 3.5 0 1 0 6.9 0a3.5 3.5 0 1 0 -6.9 0zM526.7 496.4a3.5 3.5 0 1 0 6.9 0a3.5 3.5 0 1 0 -6.9 0zM529.1 496.4a3.5 3.5 0 1 0 6.9 0a3.5 3.5 0 1 0 -6.9 0zM531.5 496.4a3.5 3.5 0 1 0 6.9 0a3.5 3.5 0 1 0 -6.9 0zM533.9 496.4a3.5 3.5 0 1 0 6.9 0a3.5 3.5 0 1 0 -6.9 0zM536.3 496.4a3.5 3.5 0 1 0 6.9 0a3.5 3.5 0 1 0 -6.9 0zM538.7 496.4a3.5 3.5 0 1 0 6.9 0a3.5 3.5 0 1 0 -6.9 0zM541.1 496.4a3.5 3.5 0 1 0 6.9 0a3.5 3.5 0 1 0 -6.9 0zM543.5 496.4a3.5 3.5 0 1 0 6.9 0a3.5 3.5 0 1 0 -6.9 0zM545.9 496.4a3.5 3.5 0 1 0 6.9 0a3.5 3.5 0 1 0 -6.9 0zM548.3 496.4a3.5 3.5 0 1 0 6.9 0a3.5 3.5 0 1 0 -6.9 0zM550.7 496.4a3.5 3.5 0 1 0 6.9 0a3.5 3.5 0 1 0 -6.9 0zM553.1 496.4a3.5 3.5 0 1 0 6.9 0a3.5 3.5 0 1 0 -6.9 0zM555.5 496.4a3.5 3.5 0 1 0 6.9 0a3.5 3.5 0 1 0 -6.9 0zM557.9 496.4a3.5 3.5 0 1 0 6.9 0a3.5 3.5 0 1 0 -6.9 0zM560.3 496.4a3.5 3.5 0 1 0 6.9 0a3.5 3.5 0 1 0 -6.9 0zM562.7 496.4a3.5 3.5 0 1 0 6.9 0a3.5 3.5 0 1 0 -6.9 0zM565.1 496.4a3.5 3.5 0 1 0 6.9 0a3.5 3.5 0 1 0 -6.9 0zM567.5 496.4a3.5 3.5 0 1 0 6.9 0a3.5 3.5 0 1 0 -6.9 0zM569.9 496.4a3.5 3.5 0 1 0 6.9 0a3.5 3.5 0 1 0 -6.9 0zM572.3 496.4a3.5 3.5 0 1 0 6.9 0a3.5 3.5 0 1 0 -6.9 0zM574.7 496.4a3.5 3.5 0 1 0 6.9 0a3.5 3.5 0 1 0 -6.9 0zM577.1 496.4a3.5 3.5 0 1 0 6.9 0a3.5 3.5 0 1 0 -6.9 0zM579.5 496.4a3.5 3.5 0 1 0 6.9 0a3.5 3.5 0 1 0 -6.9 0zM581.9 496.4a3.5 3.5 0 1 0 6.9 0a3.5 3.5 0 1 0 -6.9 0zM584.3 496.4a3.5 3.5 0 1 0 6.9 0a3.5 3.5 0 1 0 -6.9 0zM586.7 496.4a3.5 3.5 0 1 0 6.9 0a3.5 3.5 0 1 0 -6.9 0zM589.1 496.4a3.5 3.5 0 1 0 6.9 0a3.5 3.5 0 1 0 -6.9 0zM591.5 496.4a3.5 3.5 0 1 0 6.9 0a3.5 3.5 0 1 0 -6.9 0zM593.9 496.4a3.5 3.5 0 1 0 6.9 0a3.5 3.5 0 1 0 -6.9 0zM596.3 496.4a3.5 3.5 0 1 0 6.9 0a3.5 3.5 0 1 0 -6.9 0zM598.7 496.4a3.5 3.5 0 1 0 6.9 0a3.5 3.5 0 1 0 -6.9 0zM601.1 496.4a3.5 3.5 0 1 0 6.9 0a3.5 3.5 0 1 0 -6.9 0zM603.5 496.4a3.5 3.5 0 1 0 6.9 0a3.5 3.5 0 1 0 -6.9 0zM605.9 496.4a3.5 3.5 0 1 0 6.9 0a3.5 3.5 0 1 0 -6.9 0zM608.3 496.4a3.5 3.5 0 1 0 6.9 0a3.5 3.5 0 1 0 -6.9 0zM610.7 496.4a3.5 3.5 0 1 0 6.9 0a3.5 3.5 0 1 0 -6.9 0zM613.1 496.4a3.5 3.5 0 1 0 6.9 0a3.5 3.5 0 1 0 -6.9 0zM615.5 496.4a3.5 3.5 0 1 0 6.9 0a3.5 3.5 0 1 0 -6.9 0zM617.9 496.4a3.5 3.5 0 1 0 6.9 0a3.5 3.5 0 1 0 -6.9 0zM620.3 496.4a3.5 3.5 0 1 0 6.9 0a3.5 3.5 0 1 0 -6.9 0zM622.7 496.4a3.5 3.5 0 1 0 6.9 0a3.5 3.5 0 1 0 -6.9 0zM625.1 496.4a3.5 3.5 0 1 0 6.9 0a3.5 3.5 0 1 0 -6.9 0zM627.5 496.4a3.5 3.5 0 1 0 6.9 0a3.5 3.5 0 1 0 -6.9 0zM629.9 496.4a3.5 3.5 0 1 0 6.9 0a3.5 3.5 0 1 0 -6.9 0zM632.3 496.4a3.5 3.5 0 1 0 6.9 0a3.5 3.5 0 1 0 -6.9 0zM634.7 496.4a3.5 3.5 0 1 0 6.9 0a3.5 3.5 0 1 0 -6.9 0zM637.1 496.4a3.5 3.5 0 1 0 6.9 0a3.5 3.5 0 1 0 -6.9 0zM639.5 496.4a3.5 3.5 0 1 0 6.9 0a3.5 3.5 0 1 0 -6.9 0zM641.9 496.4a3.5 3.5 0 1 0 6.9 0a3.5 3.5 0 1 0 -6.9 0zM644.3 496.4a3.5 3.5 0 1 0 6.9 0a3.5 3.5 0 1 0 -6.9 0zM646.7 496.4a3.5 3.5 0 1 0 6.9 0a3.5 3.5 0 1 0 -6.9 0zM649.1 496.4a3.5 3.5 0 1 0 6.9 0a3.5 3.5 0 1 0 -6.9 0zM651.5 496.4a3.5 3.5 0 1 0 6.9 0a3.5 3.5 0 1 0 -6.9 0zM653.9 496.4a3.5 3.5 0 1 0 6.9 0a3.5 3.5 0 1 0 -6.9 0zM656.3 496.4a3.5 3.5 0 1 0 6.9 0a3.5 3.5 0 1 0 -6.9 0zM658.7 496.4a3.5 3.5 0 1 0 6.9 0a3.5 3.5 0 1 0 -6.9 0zM661.1 496.4a3.5 3.5 0 1 0 6.9 0a3.5 3.5 0 1 0 -6.9 0zM663.5 496.4a3.5 3.5 0 1 0 6.9 0a3.5 3.5 0 1 0 -6.9 0zM665.9 496.4a3.5 3.5 0 1 0 6.9 0a3.5 3.5 0 1 0 -6.9 0zM668.3 496.4a3.5 3.5 0 1 0 6.9 0a3.5 3.5 0 1 0 -6.9 0zM670.7 496.4a3.5 3.5 0 1 0 6.9 0a3.5 3.5 0 1 0 -6.9 0zM673.1 496.4a3.5 3.5 0 1 0 6.9 0a3.5 3.5 0 1 0 -6.9 0zM675.5 496.4a3.5 3.5 0 1 0 6.9 0a3.5 3.5 0 1 0 -6.9 0zM677.9 496.4a3.5 3.5 0 1 0 6.9 0a3.5 3.5 0 1 0 -6.9 0zM680.3 496.4a3.5 3.5 0 1 0 6.9 0a3.5 3.5 0 1 0 -6.9 0zM682.7 496.4a3.5 3.5 0 1 0 6.9 0a3.5 3.5 0 1 0 -6.9 0zM685.1 496.4a3.5 3.5 0 1 0 6.9 0a3.5 3.5 0 1 0 -6.9 0zM687.5 496.4a3.5 3.5 0 1 0 6.9 0a3.5 3.5 0 1 0 -6.9 0zM689.9 496.4a3.5 3.5 0 1 0 6.9 0a3.5 3.5 0 1 0 -6.9 0zM692.3 496.4a3.5 3.5 0 1 0 6.9 0a3.5 3.5 0 1 0 -6.9 0zM694.8 496.4a3.5 3.5 0 1 0 6.9 0a3.5 3.5 0 1 0 -6.9 0zM697.1 496.4a3.5 3.5 0 1 0 6.9 0a3.5 3.5 0 1 0 -6.9 0zM699.5 496.4a3.5 3.5 0 1 0 6.9 0a3.5 3.5 0 1 0 -6.9 0zM701.9 496.4a3.5 3.5 0 1 0 6.9 0a3.5 3.5 0 1 0 -6.9 0zM704.3 496.4a3.5 3.5 0 1 0 6.9 0a3.5 3.5 0 1 0 -6.9 0zM706.8 496.4a3.5 3.5 0 1 0 6.9 0a3.5 3.5 0 1 0 -6.9 0zM709.1 496.4a3.5 3.5 0 1 0 6.9 0a3.5 3.5 0 1 0 -6.9 0zM711.5 496.4a3.5 3.5 0 1 0 6.9 0a3.5 3.5 0 1 0 -6.9 0zM713.9 496.4a3.5 3.5 0 1 0 6.9 0a3.5 3.5 0 1 0 -6.9 0zM716.3 496.4a3.5 3.5 0 1 0 6.9 0a3.5 3.5 0 1 0 -6.9 0zM718.8 496.4a3.5 3.5 0 1 0 6.9 0a3.5 3.5 0 1 0 -6.9 0zM721.1 496.4a3.5 3.5 0 1 0 6.9 0a3.5 3.5 0 1 0 -6.9 0zM723.5 496.4a3.5 3.5 0 1 0 6.9 0a3.5 3.5 0 1 0 -6.9 0zM725.9 496.4a3.5 3.5 0 1 0 6.9 0a3.5 3.5 0 1 0 -6.9 0zM728.3 496.4a3.5 3.5 0 1 0 6.9 0a3.5 3.5 0 1 0 -6.9 0zM730.8 496.4a3.5 3.5 0 1 0 6.9 0a3.5 3.5 0 1 0 -6.9 0zM733.1 496.4a3.5 3.5 0 1 0 6.9 0a3.5 3.5 0 1 0 -6.9 0zM735.5 496.4a3.5 3.5 0 1 0 6.9 0a3.5 3.5 0 1 0 -6.9 0zM737.9 496.4a3.5 3.5 0 1 0 6.9 0a3.5 3.5 0 1 0 -6.9 0zM740.3 496.4a3.5 3.5 0 1 0 6.9 0a3.5 3.5 0 1 0 -6.9 0zM742.8 496.4a3.5 3.5 0 1 0 6.9 0a3.5 3.5 0 1 0 -6.9 0zM745.1 496.4a3.5 3.5 0 1 0 6.9 0a3.5 3.5 0 1 0 -6.9 0zM747.5 496.4a3.5 3.5 0 1 0 6.9 0a3.5 3.5 0 1 0 -6.9 0zM749.9 496.4a3.5 3.5 0 1 0 6.9 0a3.5 3.5 0 1 0 -6.9 0zM752.3 496.4a3.5 3.5 0 1 0 6.9 0a3.5 3.5 0 1 0 -6.9 0zM754.8 496.4a3.5 3.5 0 1 0 6.9 0a3.5 3.5 0 1 0 -6.9 0zM757.1 496.4a3.5 3.5 0 1 0 6.9 0a3.5 3.5 0 1 0 -6.9 0zM759.5 496.4a3.5 3.5 0 1 0 6.9 0a3.5 3.5 0 1 0 -6.9 0zM761.9 496.4a3.5 3.5 0 1 0 6.9 0a3.5 3.5 0 1 0 -6.9 0zM764.3 496.4a3.5 3.5 0 1 0 6.9 0a3.5 3.5 0 1 0 -6.9 0zM766.8 496.4a3.5 3.5 0 1 0 6.9 0a3.5 3.5 0 1 0 -6.9 0zM769.1 496.4a3.5 3.5 0 1 0 6.9 0a3.5 3.5 0 1 0 -6.9 0zM771.5 496.4a3.5 3.5 0 1 0 6.9 0a3.5 3.5 0 1 0 -6.9 0zM773.9 496.4a3.5 3.5 0 1 0 6.9 0a3.5 3.5 0 1 0 -6.9 0zM776.3 496.4a3.5 3.5 0 1 0 6.9 0a3.5 3.5 0 1 0 -6.9 0zM778.8 496.4a3.5 3.5 0 1 0 6.9 0a3.5 3.5 0 1 0 -6.9 0zM781.1 496.4a3.5 3.5 0 1 0 6.9 0a3.5 3.5 0 1 0 -6.9 0zM783.5 496.4a3.5 3.5 0 1 0 6.9 0a3.5 3.5 0 1 0 -6.9 0zM785.9 496.4a3.5 3.5 0 1 0 6.9 0a3.5 3.5 0 1 0 -6.9 0zM788.3 496.4a3.5 3.5 0 1 0 6.9 0a3.5 3.5 0 1 0 -6.9 0zM790.8 496.4a3.5 3.5 0 1 0 6.9 0a3.5 3.5 0 1 0 -6.9 0zM793.1 496.4a3.5 3.5 0 1 0 6.9 0a3.5 3.5 0 1 0 -6.9 0zM795.5 496.4a3.5 3.5 0 1 0 6.9 0a3.5 3.5 0 1 0 -6.9 0zM797.9 496.4a3.5 3.5 0 1 0 6.9 0a3.5 3.5 0 1 0 -6.9 0zM800.3 496.4a3.5 3.5 0 1 0 6.9 0a3.5 3.5 0 1 0 -6.9 0zM802.8 496.4a3.5 3.5 0 1 0 6.9 0a3.5 3.5 0 1 0 -6.9 0zM805.1 496.4a3.5 3.5 0 1 0 6.9 0a3.5 3.5 0 1 0 -6.9 0zM807.5 496.4a3.5 3.5 0 1 0 6.9 0a3.5 3.5 0 1 0 -6.9 0zM809.9 496.4a3.5 3.5 0 1 0 6.9 0a3.5 3.5 0 1 0 -6.9 0zM812.3 496.4a3.5 3.5 0 1 0 6.9 0a3.5 3.5 0 1 0 -6.9 0zM814.8 496.4a3.5 3.5 0 1 0 6.9 0a3.5 3.5 0 1 0 -6.9 0zM817.1 496.4a3.5 3.5 0 1 0 6.9 0a3.5 3.5 0 1 0 -6.9 0zM819.5 496.4a3.5 3.5 0 1 0 6.9 0a3.5 3.5 0 1 0 -6.9 0zM821.9 496.4a3.5 3.5 0 1 0 6.9 0a3.5 3.5 0 1 0 -6.9 0zM824.3 496.4a3.5 3.5 0 1 0 6.9 0a3.5 3.5 0 1 0 -6.9 0zM826.8 496.4a3.5 3.5 0 1 0 6.9 0a3.5 3.5 0 1 0 -6.9 0zM829.1 496.4a3.5 3.5 0 1 0 6.9 0a3.5 3.5 0 1 0 -6.9 0zM831.5 496.4a3.5 3.5 0 1 0 6.9 0a3.5 3.5 0 1 0 -6.9 0zM833.9 496.4a3.5 3.5 0 1 0 6.9 0a3.5 3.5 0 1 0 -6.9 0zM836.3 496.4a3.5 3.5 0 1 0 6.9 0a3.5 3.5 0 1 0 -6.9 0zM838.8 496.4a3.5 3.5 0 1 0 6.9 0a3.5 3.5 0 1 0 -6.9 0zM841.1 496.4a3.5 3.5 0 1 0 6.9 0a3.5 3.5 0 1 0 -6.9 0zM843.5 496.4a3.5 3.5 0 1 0 6.9 0a3.5 3.5 0 1 0 -6.9 0zM845.9 496.4a3.5 3.5 0 1 0 6.9 0a3.5 3.5 0 1 0 -6.9 0zM848.3 496.4a3.5 3.5 0 1 0 6.9 0a3.5 3.5 0 1 0 -6.9 0zM850.8 496.4a3.5 3.5 0 1 0 6.9 0a3.5 3.5 0 1 0 -6.9 0zM853.1 496.4a3.5 3.5 0 1 0 6.9 0a3.5 3.5 0 1 0 -6.9 0zM855.5 496.4a3.5 3.5 0 1 0 6.9 0a3.5 3.5 0 1 0 -6.9 0z" fill="#f00"/>
</g>
<path d="M858.8 0V545.4M858.8 519.9h-5.6M858.8 506h-5.6M858.8 496.2h-5.6M858.8 488.6h-5.6M858.8 482.4h-5.6M858.8 477.1h-5.6M858.8 472.6h-5.6M858.8 468.5h-5.6M858.8 464.9h-10.8M858.8 441.3h-5.6M858.8 427.5h-5.6M858.8 417.6h-5.6M858.8 410h-5.6M858.8 403.8h-5.6M858.8 398.5h-5.6M858.8 394h-5.6M858.8 390h-5.6M858.8 386.4h-10.8M858.8 362.7h-5.6M858.8 348.9h-5.6M858.8 339.1h-5.6M858.8 331.5h-5.6M858.8 325.2h-5.6M858.8 320h-5.6M858.8 315.4h-5.6M858.8 311.4h-5.6M858.8 307.8h-10.8M858.8 284.2h-5.6M858.8 270.3h-5.6M858.8 260.5h-5.6M858.8 252.9h-5.6M858.8 246.7h-5.6M858.8 241.4h-5.6M858.8 236.9h-5.6M858.8 232.9h-5.6M858.8 229.3h-10.8M858.8 205.6h-5.6M858.8 191.8h-5.6M858.8 182h-5.6M858.8 174.3h-5.6M858.8 168.1h-5.6M858.8 162.9h-5.6M858.8 158.3h-5.6M858.8 154.3h-5.6M858.8 150.7h-10.8M858.8 127.1h-5.6M858.8 113.2h-5.6M858.8 103.4h-5.6M858.8 95.8h-5.6M858.8 89.6h-5.6M858.8 84.3h-5.6M858.8 79.8h-5.6M858.8 75.7h-5.6M858.8 72.1h-10.8M858.8 48.5h-5.6M858.8 34.7h-5.6M858.8 24.8h-5.6M858.8 17.2h-5.6M858.8 11h-5.6M858.8 5.7h-5.6" stroke="#000" stroke-width="3.6" fill="none"/>
<g clip-path="url(#c)">
<path d="M121.9 120.5L124 170.3M124.4 177.7L126.1 212.3M126.5 219.7L127.9 242.3M128.5 249.7L130 265M131.3 272.4L131.6 273.7M132.8 281.1L134.5 306.8M135 306.8L136.5 290M137.3 282.6L138.7 268.6M139.3 268.6L141 296.5M141.6 303.8L143.1 320.1M143.6 320.1L145.4 290M146.2 290L147.2 296.5M148.1 303.8L149.6 320.1M150.1 320.1L152 280.2M152.5 280.2L154 296.5M154.9 296.5L155.9 290M157.1 290L158.1 296.5M159.2 296.5L160.3 290M161.7 282.6L162.2 280.2M163.1 280.2L165.1 361.6M165.4 361.6L167.2 327.5M167.7 320.1L169.2 303.8M169.9 303.8L171.4 320.1M171.9 320.1L173.7 280.2M176.4 280.2L177.9 296.5M178.4 303.9L180.3 361.6M180.6 361.6L182.5 303.9M182.9 296.5L184.6 272.6M185.3 272.6L186.5 282.6M187.6 290L188.6 296.5M189.3 303.9L191.2 361.6M191.4 361.6L193.4 280.2M194.3 280.2L194.9 282.6M195.9 290L197.7 320.1M198.2 320.1L199.7 303.8M202.6 303.8L204.1 320.1M204.6 320.1L206.5 266.4M206.9 266.4L208.4 282.6M209 290L210.7 320.1M211.2 327.5L212.9 361.6M213.2 361.6L215.2 290M216.1 282.6L216.7 280.2M217.7 280.2L219.5 320.1M219.9 320.1L221.6 290M224.6 290L225.6 296.5M226.6 296.5L228.1 280.2M228.7 280.2L230.2 296.5M230.7 296.5L232.6 256.6M233 256.6L234.7 282.6M235.1 290L236.9 320.1M237.3 320.1L239.1 280.2M241.9 272.6L243.2 282.6M243.9 290L245.6 320.1M246 320.1L247.8 290M248.2 282.6L249.9 256.6M250.5 256.5L252 272.8M255.4 280.2L255.9 282.6M259.2 282.6L260.7 266.4M261.9 259L262.4 256.5M263.5 256.6L265.2 282.6M265.5 290L267.5 361.6M267.7 361.6L269.7 290M270 282.6L271.7 256.6M272.2 256.6L273.9 282.6M274.5 282.6L276 266.4M279 272.6L280.2 282.6M281.5 282.6L282 280.2M283.7 280.2L284.2 282.6M285.6 290L286.6 296.5M287.6 296.5L289.1 280.2M290.2 280.2L290.8 282.6M292.4 282.6L292.9 280.2M301.1 280.2L301.7 282.6M307.7 282.6L308.2 280.2M309.1 280.2L311.1 361.6M311.4 361.6L313.2 327.5M313.5 320.1L315.4 280.2M320.5 266.4L321.5 272.8M322.5 272.8L323.8 261.1M324.7 261.1L326 272.8M327.3 280.2L327.8 282.6M328.8 282.6L330.6 239.4M331.6 239.4L332.1 241.6M335.5 252.5L337.1 272.8M337.8 272.8L339.1 261.1M339.9 261.1L341.3 272.8M342.4 272.8L343.2 268.7M346.3 272.6L348 296.5M348.6 303.8L350.1 320.1M350.6 320.1L352.4 274.4M352.7 274.4L354.7 361.6M367.7 361.6L369.7 303.9M372.1 303.9L374.1 361.6M374.4 361.6L376.2 327.5M376.6 327.5L378.4 361.6M378.7 361.6L380.8 303.9M381 303.9L383 361.6M383.2 361.6L385.2 303.9M385.4 303.9L387.3 361.6M389.5 361.6L391.4 290M391.6 290L393.6 361.6M393.8 361.6L395.8 290M396 290L398 361.6M400.3 361.6L402.4 290M402.7 290L404.7 320.1M405.1 320.1L408.3 272M408.7 272L410.7 320.1M411.3 320.1L412.8 303.8M413.6 296.5L415.2 280.2M415.9 280.2L417.5 296.5M418.1 296.5L419.7 280.2M420.3 280.2L421.5 296.5M422.1 296.5L423.3 280.2M424.4 280.2L425 282.6M426.2 282.6L427.4 272.5M428.4 265.1L432.2 242.7M433 235.3L434.9 188.9M435.3 181.5L437 149.3M437.5 141.9L439.1 117.5M439.9 110.1L441.1 100.7M442.3 93.3L443.1 89.7" stroke="#f0f" stroke-width="6" fill="none"/>
<path d="M118.8 113.9h5.8v5.8h-5.8zM121.3 171.1h5.8v5.8h-5.8zM123.4 213.1h5.8v5.8h-5.8zM125.3 243.1h5.8v5.8h-5.8zM127.4 265.8h5.8v5.8h-5.8zM129.6 274.5h5.8v5.8h-5.8zM131.8 307.6h5.8v5.8h-5.8zM134 283.4h5.8v5.8h-5.8zM136.2 262h5.8v5.8h-5.8zM138.3 297.3h5.8v5.8h-5.8zM140.5 320.9h5.8v5.8h-5.8zM142.7 283.4h5.8v5.8h-5.8zM144.9 297.3h5.8v5.8h-5.8zM147 320.9h5.8v5.8h-5.8zM149.2 273.6h5.8v5.8h-5.8zM151.4 297.3h5.8v5.8h-5.8zM153.6 283.4h5.8v5.8h-5.8zM155.8 297.3h5.8v5.8h-5.8zM157.9 283.4h5.8v5.8h-5.8zM160.1 273.6h5.8v5.8h-5.8zM162.3 362.4h5.8v5.8h-5.8zM164.5 320.9h5.8v5.8h-5.8zM166.7 297.3h5.8v5.8h-5.8zM168.8 320.9h5.8v5.8h-5.8zM171 273.6h5.8v5.8h-5.8zM173.2 273.6h5.8v5.8h-5.8zM175.4 297.3h5.8v5.8h-5.8zM177.6 362.4h5.8v5.8h-5.8zM179.7 297.3h5.8v5.8h-5.8zM181.9 266h5.8v5.8h-5.8zM184.1 283.4h5.8v5.8h-5.8zM186.3 297.3h5.8v5.8h-5.8zM188.4 362.4h5.8v5.8h-5.8zM190.6 273.6h5.8v5.8h-5.8zM192.8 283.4h5.8v5.8h-5.8zM195 320.9h5.8v5.8h-5.8zM197.2 297.3h5.8v5.8h-5.8zM199.3 297.3h5.8v5.8h-5.8zM201.5 320.9h5.8v5.8h-5.8zM203.7 259.8h5.8v5.8h-5.8zM205.9 283.4h5.8v5.8h-5.8zM208.1 320.9h5.8v5.8h-5.8zM210.2 362.4h5.8v5.8h-5.8zM212.4 283.4h5.8v5.8h-5.8zM214.6 273.6h5.8v5.8h-5.8zM216.8 320.9h5.8v5.8h-5.8zM219 283.4h5.8v5.8h-5.8zM221.1 283.4h5.8v5.8h-5.8zM223.3 297.3h5.8v5.8h-5.8zM225.5 273.6h5.8v5.8h-5.8zM227.7 297.3h5.8v5.8h-5.8zM229.8 250h5.8v5.8h-5.8zM232 283.4h5.8v5.8h-5.8zM234.2 320.9h5.8v5.8h-5.8zM236.4 273.6h5.8v5.8h-5.8zM238.6 266h5.8v5.8h-5.8zM240.7 283.4h5.8v5.8h-5.8zM242.9 320.9h5.8v5.8h-5.8zM245.1 283.4h5.8v5.8h-5.8zM247.3 250h5.8v5.8h-5.8zM249.5 273.6h5.8v5.8h-5.8zM251.6 273.6h5.8v5.8h-5.8zM253.8 283.4h5.8v5.8h-5.8zM256 283.4h5.8v5.8h-5.8zM258.2 259.8h5.8v5.8h-5.8zM260.4 250h5.8v5.8h-5.8zM262.5 283.4h5.8v5.8h-5.8zM264.7 362.4h5.8v5.8h-5.8zM266.9 283.4h5.8v5.8h-5.8zM269.1 250h5.8v5.8h-5.8zM271.3 283.4h5.8v5.8h-5.8zM273.4 259.8h5.8v5.8h-5.8zM275.6 266h5.8v5.8h-5.8zM277.8 283.4h5.8v5.8h-5.8zM280 273.6h5.8v5.8h-5.8zM282.1 283.4h5.8v5.8h-5.8zM284.3 297.3h5.8v5.8h-5.8zM286.5 273.6h5.8v5.8h-5.8zM288.7 283.4h5.8v5.8h-5.8zM290.9 273.6h5.8v5.8h-5.8zM293 266h5.8v5.8h-5.8zM295.2 273.6h5.8v5.8h-5.8zM297.4 273.6h5.8v5.8h-5.8zM299.6 283.4h5.8v5.8h-5.8zM301.8 283.4h5.8v5.8h-5.8zM303.9 283.4h5.8v5.8h-5.8zM306.1 273.6h5.8v5.8h-5.8zM308.3 362.4h5.8v5.8h-5.8zM310.5 320.9h5.8v5.8h-5.8zM312.7 273.6h5.8v5.8h-5.8zM314.8 266h5.8v5.8h-5.8zM317 259.8h5.8v5.8h-5.8zM319.2 273.6h5.8v5.8h-5.8zM321.4 254.5h5.8v5.8h-5.8zM323.5 273.6h5.8v5.8h-5.8zM325.7 283.4h5.8v5.8h-5.8zM327.9 232.8h5.8v5.8h-5.8zM330.1 242.3h5.8v5.8h-5.8zM332.3 245.9h5.8v5.8h-5.8zM334.4 273.6h5.8v5.8h-5.8zM336.6 254.5h5.8v5.8h-5.8zM338.8 273.6h5.8v5.8h-5.8zM341 262.1h5.8v5.8h-5.8zM343.2 266h5.8v5.8h-5.8zM345.3 297.3h5.8v5.8h-5.8zM347.5 320.9h5.8v5.8h-5.8zM349.7 267.8h5.8v5.8h-5.8zM351.9 362.4h5.8v5.8h-5.8zM354.1 362.4h5.8v5.8h-5.8zM356.3 362.4h5.8v5.8h-5.8zM358.5 362.4h5.8v5.8h-5.8zM360.7 362.4h5.8v5.8h-5.8zM362.7 362.4h5.8v5.8h-5.8zM364.7 362.4h5.8v5.8h-5.8zM366.9 297.3h5.8v5.8h-5.8zM369.1 297.3h5.8v5.8h-5.8zM371.3 362.4h5.8v5.8h-5.8zM373.5 320.9h5.8v5.8h-5.8zM375.7 362.4h5.8v5.8h-5.8zM378 297.3h5.8v5.8h-5.8zM380.2 362.4h5.8v5.8h-5.8zM382.4 297.3h5.8v5.8h-5.8zM384.5 362.4h5.8v5.8h-5.8zM386.5 362.4h5.8v5.8h-5.8zM388.6 283.4h5.8v5.8h-5.8zM390.8 362.4h5.8v5.8h-5.8zM393 283.4h5.8v5.8h-5.8zM395.2 362.4h5.8v5.8h-5.8zM397.3 362.4h5.8v5.8h-5.8zM399.6 283.4h5.8v5.8h-5.8zM402 320.9h5.8v5.8h-5.8zM405.6 265.4h5.8v5.8h-5.8zM408 320.9h5.8v5.8h-5.8zM410.3 297.3h5.8v5.8h-5.8zM412.7 273.6h5.8v5.8h-5.8zM414.9 297.3h5.8v5.8h-5.8zM417.1 273.6h5.8v5.8h-5.8zM418.9 297.3h5.8v5.8h-5.8zM420.7 273.6h5.8v5.8h-5.8zM422.9 283.4h5.8v5.8h-5.8zM424.9 265.9h5.8v5.8h-5.8zM429.9 236.1h5.8v5.8h-5.8zM432.2 182.3h5.8v5.8h-5.8zM434.3 142.7h5.8v5.8h-5.8zM436.5 110.9h5.8v5.8h-5.8zM438.7 94.1h5.8v5.8h-5.8zM440.9 83.1h5.8v5.8h-5.8zM443.1 76.6h5.8v5.8h-5.8zM445.3 72.7h5.8v5.8h-5.8zM447.5 70.9h5.8v5.8h-5.8zM449.7 68.4h5.8v5.8h-5.8zM451.9 69.9h5.8v5.8h-5.8zM454.1 68.6h5.8v5.8h-5.8zM456.2 69.9h5.8v5.8h-5.8zM458.4 68.8h5.8v5.8h-5.8zM460.6 68.9h5.8v5.8h-5.8zM462.8 69.7h5.8v5.8h-5.8zM465 70.8h5.8v5.8h-5.8zM467.1 68.5h5.8v5.8h-5.8zM469.3 68.8h5.8v5.8h-5.8zM471.5 70h5.8v5.8h-5.8zM473.7 71.1h5.8v5.8h-5.8zM475.8 70.2h5.8v5.8h-5.8zM478 70h5.8v5.8h-5.8zM480.2 72.1h5.8v5.8h-5.8zM482.4 69.6h5.8v5.8h-5.8zM484.6 72.3h5.8v5.8h-5.8zM486.7 70.7h5.8v5.8h-5.8zM488.9 70.3h5.8v5.8h-5.8zM491.1 70.2h5.8v5.8h-5.8zM493.3 70.6h5.8v5.8h-5.8zM495.5 72.1h5.8v5.8h-5.8zM497.6 70.1h5.8v5.8h-5.8zM499.8 71.3h5.8v5.8h-5.8zM502 71.5h5.8v5.8h-5.8zM504.2 70.8h5.8v5.8h-5.8zM506.4 71.5h5.8v5.8h-5.8zM508.5 70.2h5.8v5.8h-5.8zM510.7 70.3h5.8v5.8h-5.8zM512.9 70.7h5.8v5.8h-5.8zM515.1 72h5.8v5.8h-5.8zM517.2 71h5.8v5.8h-5.8zM519.4 70.4h5.8v5.8h-5.8zM521.6 70.9h5.8v5.8h-5.8zM523.8 70.3h5.8v5.8h-5.8zM526 69.7h5.8v5.8h-5.8zM528.1 71.2h5.8v5.8h-5.8zM530.3 71h5.8v5.8h-5.8zM532.5 69.9h5.8v5.8h-5.8zM534.7 71.1h5.8v5.8h-5.8zM536.9 71.2h5.8v5.8h-5.8zM539 72.4h5.8v5.8h-5.8zM541.2 72h5.8v5.8h-5.8zM543.4 70.7h5.8v5.8h-5.8zM545.6 72.8h5.8v5.8h-5.8zM547.8 70.1h5.8v5.8h-5.8zM549.9 71h5.8v5.8h-5.8zM552.1 72.1h5.8v5.8h-5.8zM554.3 70.4h5.8v5.8h-5.8zM556.5 71.6h5.8v5.8h-5.8zM558.6 70.6h5.8v5.8h-5.8zM560.8 72.7h5.8v5.8h-5.8zM563 73.3h5.8v5.8h-5.8zM565.2 72.9h5.8v5.8h-5.8zM567.4 73.9h5.8v5.8h-5.8zM569.5 72.2h5.8v5.8h-5.8zM571.7 73.1h5.8v5.8h-5.8zM573.9 72.6h5.8v5.8h-5.8zM576.1 72.3h5.8v5.8h-5.8zM578.3 71.8h5.8v5.8h-5.8zM580.4 72.8h5.8v5.8h-5.8zM582.6 73.1h5.8v5.8h-5.8zM584.8 71.7h5.8v5.8h-5.8zM587 72.4h5.8v5.8h-5.8zM589.2 70.7h5.8v5.8h-5.8zM591.3 72.7h5.8v5.8h-5.8zM593.5 72.5h5.8v5.8h-5.8zM595.7 73.5h5.8v5.8h-5.8zM597.9 72.8h5.8v5.8h-5.8zM600.1 71h5.8v5.8h-5.8zM602.2 71.2h5.8v5.8h-5.8zM604.4 71.9h5.8v5.8h-5.8zM606.6 69.9h5.8v5.8h-5.8zM608.8 71.4h5.8v5.8h-5.8zM610.9 70.7h5.8v5.8h-5.8zM613.1 70.8h5.8v5.8h-5.8zM615.3 71h5.8v5.8h-5.8zM617.5 73.5h5.8v5.8h-5.8zM619.7 71.8h5.8v5.8h-5.8zM621.8 72.3h5.8v5.8h-5.8zM624 72.8h5.8v5.8h-5.8zM626.2 74.2h5.8v5.8h-5.8zM628.4 71.7h5.8v5.8h-5.8zM630.6 72.8h5.8v5.8h-5.8zM632.7 73h5.8v5.8h-5.8zM634.9 74.1h5.8v5.8h-5.8zM637.1 74h5.8v5.8h-5.8zM639.3 74.3h5.8v5.8h-5.8zM641.5 72.7h5.8v5.8h-5.8zM643.6 73.3h5.8v5.8h-5.8zM645.8 73.2h5.8v5.8h-5.8zM648 74.7h5.8v5.8h-5.8zM650.2 74.8h5.8v5.8h-5.8zM652.3 72.2h5.8v5.8h-5.8zM654.5 72h5.8v5.8h-5.8zM656.7 71.9h5.8v5.8h-5.8zM658.9 71.6h5.8v5.8h-5.8zM661.1 72.3h5.8v5.8h-5.8zM663.2 72.5h5.8v5.8h-5.8zM665.4 71.7h5.8v5.8h-5.8zM667.6 71h5.8v5.8h-5.8zM669.8 72.5h5.8v5.8h-5.8zM672 72.5h5.8v5.8h-5.8zM674.1 73.3h5.8v5.8h-5.8zM676.3 74.5h5.8v5.8h-5.8zM678.5 73.7h5.8v5.8h-5.8zM680.7 73.1h5.8v5.8h-5.8zM682.9 73.3h5.8v5.8h-5.8zM685 73.5h5.8v5.8h-5.8zM687.2 71.7h5.8v5.8h-5.8zM689.4 74.3h5.8v5.8h-5.8zM691.6 74.2h5.8v5.8h-5.8zM693.7 74.8h5.8v5.8h-5.8zM695.9 74.9h5.8v5.8h-5.8zM698.1 74h5.8v5.8h-5.8zM700.3 74.2h5.8v5.8h-5.8zM702.5 73.4h5.8v5.8h-5.8zM704.6 75h5.8v5.8h-5.8zM706.8 73.2h5.8v5.8h-5.8zM709 73h5.8v5.8h-5.8zM711.2 73.2h5.8v5.8h-5.8zM713.4 72.9h5.8v5.8h-5.8zM715.5 73.3h5.8v5.8h-5.8zM717.7 72.4h5.8v5.8h-5.8zM719.9 72.3h5.8v5.8h-5.8zM722.1 72.9h5.8v5.8h-5.8zM724.3 72.9h5.8v5.8h-5.8zM726.4 73.7h5.8v5.8h-5.8zM728.6 72.7h5.8v5.8h-5.8zM730.8 75.1h5.8v5.8h-5.8zM733 74.2h5.8v5.8h-5.8zM735.1 72.6h5.8v5.8h-5.8zM737.3 72.7h5.8v5.8h-5.8zM739.5 72.8h5.8v5.8h-5.8zM741.7 72.8h5.8v5.8h-5.8zM743.9 72.1h5.8v5.8h-5.8zM746 74.5h5.8v5.8h-5.8zM748.2 75.2h5.8v5.8h-5.8zM750.4 74h5.8v5.8h-5.8zM752.6 74.3h5.8v5.8h-5.8zM754.8 73.4h5.8v5.8h-5.8zM756.9 73.6h5.8v5.8h-5.8zM759.1 74.4h5.8v5.8h-5.8zM761.3 74.1h5.8v5.8h-5.8zM763.5 75.7h5.8v5.8h-5.8zM765.7 73.7h5.8v5.8h-5.8zM767.8 73.2h5.8v5.8h-5.8zM770 76.1h5.8v5.8h-5.8zM772.2 75h5.8v5.8h-5.8zM774.4 74h5.8v5.8h-5.8zM776.5 75.4h5.8v5.8h-5.8zM778.7 74.1h5.8v5.8h-5.8zM780.9 75.7h5.8v5.8h-5.8zM783.1 77h5.8v5.8h-5.8zM785.3 76.6h5.8v5.8h-5.8zM787.4 75.9h5.8v5.8h-5.8zM789.6 74.3h5.8v5.8h-5.8zM791.8 74.3h5.8v5.8h-5.8zM794 73.5h5.8v5.8h-5.8zM796.2 75.1h5.8v5.8h-5.8zM798.3 74.4h5.8v5.8h-5.8zM800.5 75.2h5.8v5.8h-5.8zM802.7 74h5.8v5.8h-5.8zM804.9 73.8h5.8v5.8h-5.8zM807.1 75.8h5.8v5.8h-5.8zM809.2 76.4h5.8v5.8h-5.8zM811.4 76h5.8v5.8h-5.8zM813.6 75.8h5.8v5.8h-5.8zM815.8 75.8h5.8v5.8h-5.8zM818 75.5h5.8v5.8h-5.8zM820.1 73.9h5.8v5.8h-5.8zM822.3 74.8h5.8v5.8h-5.8zM824.5 74.4h5.8v5.8h-5.8zM826.7 73.7h5.8v5.8h-5.8zM828.8 74h5.8v5.8h-5.8zM831 75.1h5.8v5.8h-5.8zM833.2 75.3h5.8v5.8h-5.8zM835.4 76.9h5.8v5.8h-5.8zM837.6 77.8h5.8v5.8h-5.8zM839.7 76.3h5.8v5.8h-5.8zM841.9 77.7h5.8v5.8h-5.8zM844.1 77.7h5.8v5.8h-5.8zM846.3 77.4h5.8v5.8h-5.8zM848.5 75.5h5.8v5.8h-5.8zM850.6 75h5.8v5.8h-5.8z" fill="#f0f"/>
<path d="M131 178.3L139.9 153.7M144.8 147.8L149 145.2M156.4 143L160.4 143.1M167.9 143.5L171.9 144M179.4 144.4L183.4 144.5M190.9 144.5L194.8 144.4M202.3 144.4L206.3 144.3M213.8 144.3L217.8 144.4M225.3 144.4L229.3 144.4M236.8 144.3L240.8 144.1M248.3 144L252.2 144M259.7 144L263.7 143.9M271.2 143.6L275.2 143.3M282.7 143L286.7 143M294.2 143.5L298.2 143.9M305.7 144.5L309.7 144.7M317.1 146.5L321.2 148.3M327.1 153.6L334.3 165.9M338.2 173.2L346.2 190.3M349.2 197.7L358.2 223.9M360.6 231.3L369.8 260M372.5 267.4L381 288.3M383.5 295.7L393.1 333.3M395.7 340.7L404 360M407.1 367.4L415.7 389.1M420.7 395.8L425.1 399.5M432.4 403.9L436.5 405.6M441.5 410.7L450.5 436.5M452.3 443.9L462.7 514.8M463.8 514.8L474.2 443.9M478.3 437L482.7 433.2M487.2 433.7L496.8 473.7M501.5 477.4L505.5 477.4M513 477.4L516.9 477.4M522.4 473.7L530.3 457.7M535.8 454L539.7 454M546.4 450.4L552 443.6M557.8 443.6L563.4 450.4M568.1 457.7L575.9 473.7M579.5 473.7L587.4 457.7M589.8 457.7L599.9 514.9M601.6 514.9L611 481.1M613.1 481.1L622.4 514.9M624 514.9L634.4 443.7M638.7 440L642.6 440M649.3 443.6L654.9 450.4M659.6 457.7L667.5 473.7M671.1 473.7L679 457.5M683.7 450.2L689.3 443.6M696 440L700 440M706.1 436.4L712.8 426M717.5 426L724.3 436.4M729.6 443.6L735.2 450.2M739.5 450.1L748.3 426.1M753.2 424.8L757.5 427.6M762.9 433.7L770.8 450.1M774.4 457.5L782.3 473.7M787.8 477.4L791.8 477.4M797.3 473.7L805.2 457.5M810 450.2L815.5 443.6M820.3 436.3L828.2 420.3M830.7 420.3L840.8 473.7M842.2 473.7L852.2 426.1" stroke="#00f" stroke-width="6.3" fill="none"/>
<path d="M126.8 179.1h5.9v5.9h-5.9zM138.2 147.1h5.9v5.9h-5.9zM149.7 140.1h5.9v5.9h-5.9zM161.2 140.2h5.9v5.9h-5.9zM172.7 141.5h5.9v5.9h-5.9zM184.2 141.6h5.9v5.9h-5.9zM195.6 141.5h5.9v5.9h-5.9zM207.1 141.4h5.9v5.9h-5.9zM218.6 141.5h5.9v5.9h-5.9zM230.1 141.5h5.9v5.9h-5.9zM241.6 141.1h5.9v5.9h-5.9zM253 141.1h5.9v5.9h-5.9zM264.5 141h5.9v5.9h-5.9zM276 140.1h5.9v5.9h-5.9zM287.5 140.1h5.9v5.9h-5.9zM299 141.5h5.9v5.9h-5.9zM310.5 141.9h5.9v5.9h-5.9zM322 147.1h5.9v5.9h-5.9zM333.5 166.6h5.9v5.9h-5.9zM345 191.1h5.9v5.9h-5.9zM356.5 224.7h5.9v5.9h-5.9zM368 260.8h5.9v5.9h-5.9zM379.6 289.1h5.9v5.9h-5.9zM391.1 334.1h5.9v5.9h-5.9zM402.7 360.8h5.9v5.9h-5.9zM414.2 389.9h5.9v5.9h-5.9zM425.7 399.6h5.9v5.9h-5.9zM437.3 404.1h5.9v5.9h-5.9zM448.8 437.2h5.9v5.9h-5.9zM460.3 515.5h5.9v5.9h-5.9zM471.8 437.2h5.9v5.9h-5.9zM483.3 427.1h5.9v5.9h-5.9zM494.8 474.4h5.9v5.9h-5.9zM506.3 474.4h5.9v5.9h-5.9zM517.7 474.4h5.9v5.9h-5.9zM529.1 451.1h5.9v5.9h-5.9zM540.5 451.1h5.9v5.9h-5.9zM552 437.1h5.9v5.9h-5.9zM563.4 451.1h5.9v5.9h-5.9zM574.8 474.4h5.9v5.9h-5.9zM586.2 451.1h5.9v5.9h-5.9zM597.6 515.6h5.9v5.9h-5.9zM609.1 474.4h5.9v5.9h-5.9zM620.5 515.6h5.9v5.9h-5.9zM632 437.1h5.9v5.9h-5.9zM643.4 437.1h5.9v5.9h-5.9zM654.9 451.1h5.9v5.9h-5.9zM666.3 474.4h5.9v5.9h-5.9zM677.8 450.9h5.9v5.9h-5.9zM689.3 437.1h5.9v5.9h-5.9zM700.8 437.1h5.9v5.9h-5.9zM712.2 419.4h5.9v5.9h-5.9zM723.7 437.1h5.9v5.9h-5.9zM735.2 450.9h5.9v5.9h-5.9zM746.7 419.4h5.9v5.9h-5.9zM758.2 427.1h5.9v5.9h-5.9zM769.6 450.9h5.9v5.9h-5.9zM781.1 474.4h5.9v5.9h-5.9zM792.6 474.4h5.9v5.9h-5.9zM804.1 450.9h5.9v5.9h-5.9zM815.6 437.1h5.9v5.9h-5.9zM827 413.7h5.9v5.9h-5.9zM838.5 474.4h5.9v5.9h-5.9zM850 419.4h5.9v5.9h-5.9z" fill="#00f"/>
</g>
<path d="M700 128.8H726.3M755.8 128.8H782.2" stroke="#000" stroke-width="5.7"/>
<rect x="738" y="125.8" width="6" height="6" fill="#000"/>
<path d="M700 174.7H726.3M755.8 174.7H782.2" stroke="#f00" stroke-width="5.7"/>
<circle cx="741" cy="174.7" r="3.4" fill="#f00"/>
<path d="M700 220.4H726.3M755.8 220.4H782.2" stroke="#f0f" stroke-width="5.7"/>
<rect x="738" y="217.4" width="6" height="6" fill="#f0f"/>
<path d="M700 265.8H726.3M755.8 265.8H782.2" stroke="#00f" stroke-width="5.7"/>
<rect x="738" y="262.8" width="6" height="6" fill="#00f"/>
<g font-size="36">
<text x="799.4" y="140.2">Si</text>
<text x="799.4" y="185.6">Ge</text>
<text x="810" y="231.6">B</text>
<text x="810" y="277.9">P</text>
</g>
<g font-size="44" text-anchor="middle">
<text x="121.9" y="590">0</text>
<text x="306.1" y="590">100</text>
<text x="490.4" y="590">200</text>
<text x="674.6" y="590">300</text>
<text x="858.8" y="590">400</text>
</g>
<g font-size="44" text-anchor="end">
<text x="109.6" y="512.1">0.0</text>
<text x="109.6" y="421.6">0.2</text>
<text x="109.6" y="331.1">0.4</text>
<text x="109.6" y="240.6">0.6</text>
<text x="109.6" y="150.1">0.8</text>
<text x="109.6" y="59.6">1.0</text>
</g>
<g font-size="44">
<text x="870.5" y="561.1">10<tspan font-size="25.5" dx="-1.6" dy="-24.6">14</tspan></text>
<text x="870.5" y="482.5">10<tspan font-size="25.5" dx="-1.6" dy="-24.6">15</tspan></text>
<text x="870.5" y="404">10<tspan font-size="25.5" dx="-1.6" dy="-24.6">16</tspan></text>
<text x="870.5" y="325.4">10<tspan font-size="25.5" dx="-1.6" dy="-24.6">17</tspan></text>
<text x="870.5" y="246.9">10<tspan font-size="25.5" dx="-1.6" dy="-24.6">18</tspan></text>
<text x="870.5" y="168.3">10<tspan font-size="25.5" dx="-1.6" dy="-24.6">19</tspan></text>
<text x="870.5" y="89.7">10<tspan font-size="25.5" dx="-1.6" dy="-24.6">20</tspan></text>
</g>
<text x="490.6" y="659.7" font-size="43.2" text-anchor="middle">Depth (nm)</text>
<text transform="translate(31.5,301.5) rotate(-90)" font-size="44.2" text-anchor="middle">Si,Ge fraction</text>
<text transform="translate(992.3,494) rotate(-90)" font-size="44.5">B,P concentration (cm<tspan font-size="24.5" dy="-24.5">-3</tspan><tspan dy="24.5">)</tspan></text>
</svg>
</body></html>
